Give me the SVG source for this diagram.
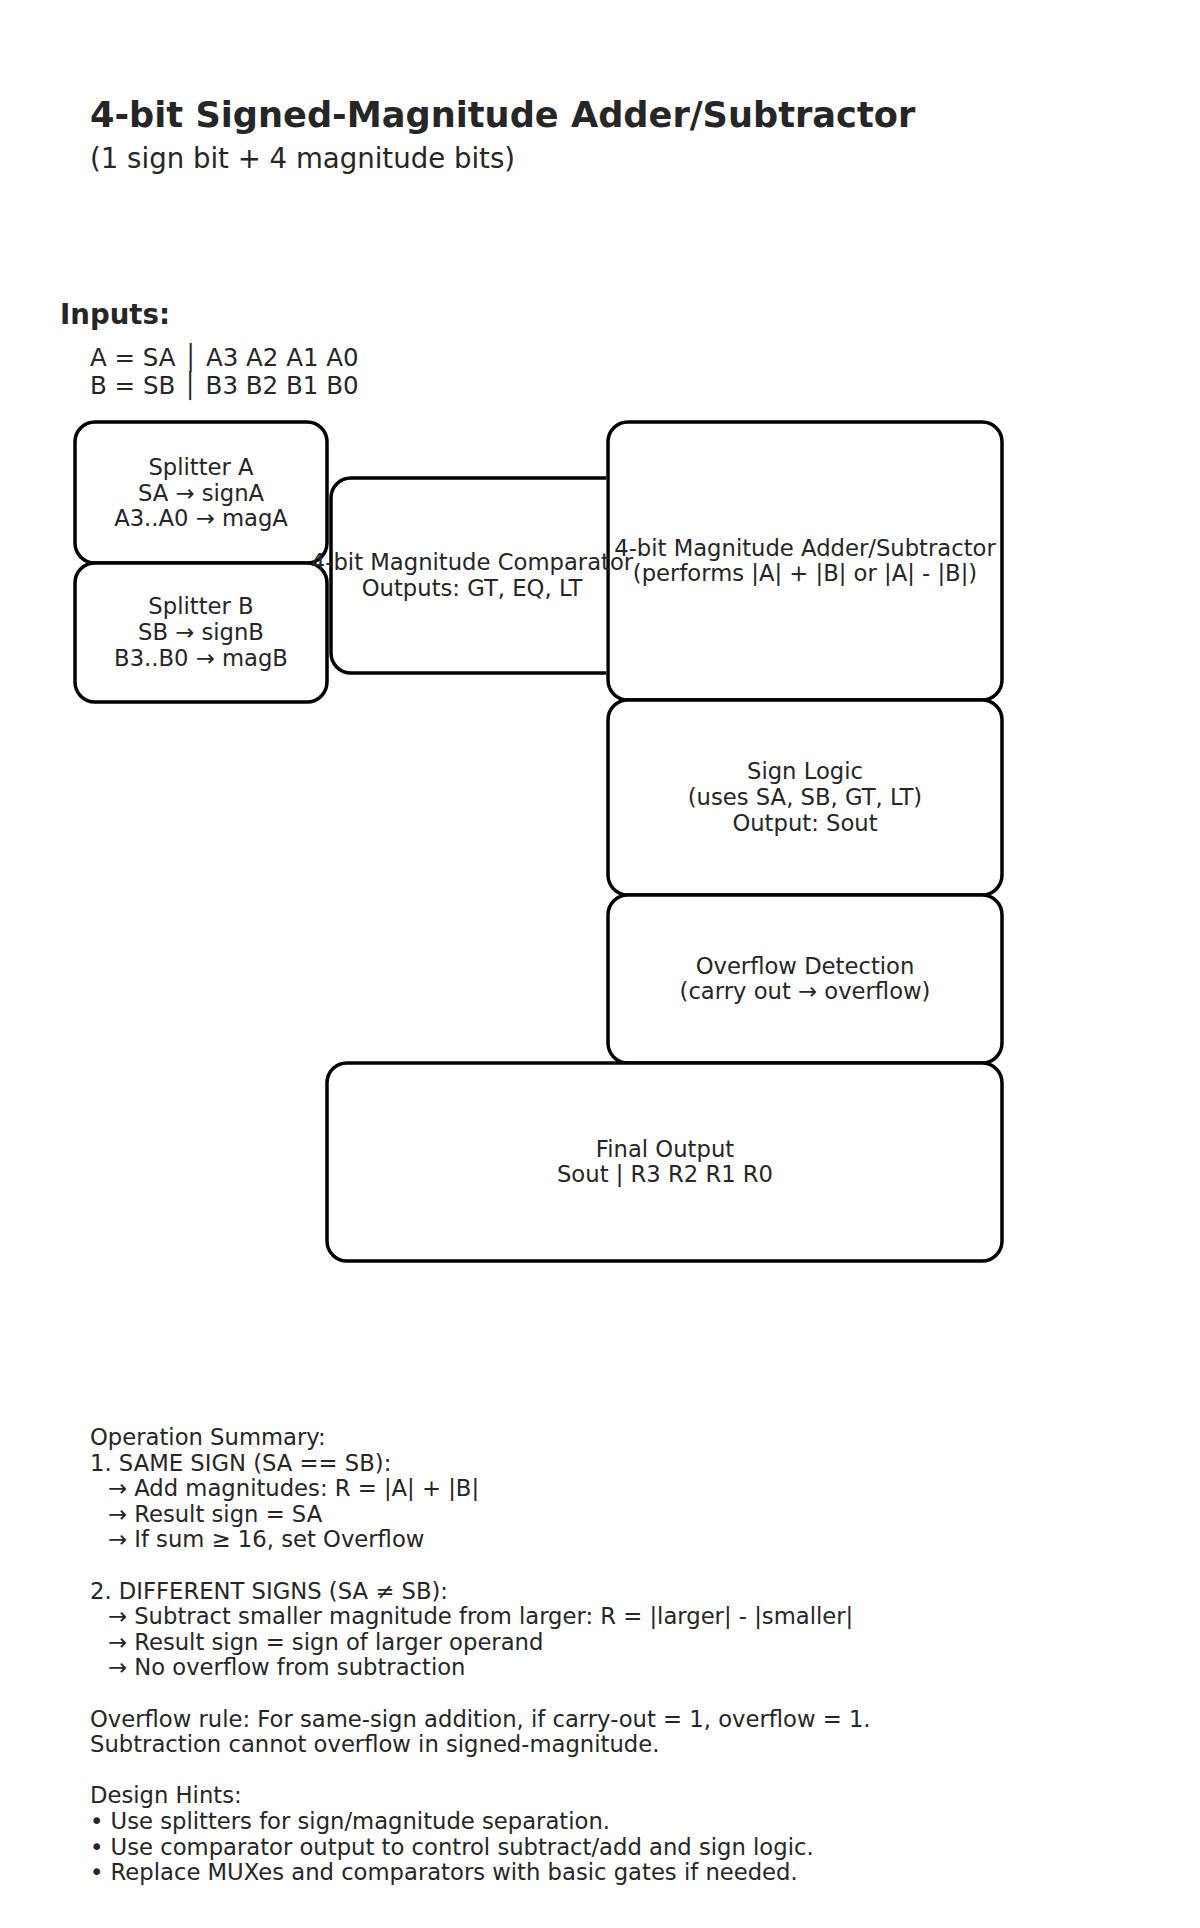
<svg xmlns="http://www.w3.org/2000/svg" width="1200" height="1928" viewBox="0 0 1200 1928">
<style>
  text { font-family: "DejaVu Sans", "Liberation Sans", sans-serif; fill: #262626; }
  .title { font-size: 35.2px; font-weight: bold; }
  .sub { font-size: 27.6px; }
  .h { font-size: 27.6px; font-weight: bold; }
  .inp { font-size: 24.5px; }
  .lbl { font-size: 22.7px; text-anchor: middle; }
  .note { font-size: 22.7px; }
  .box { fill: #fff; stroke: #000; stroke-width: 3.5; }
</style>
<rect width="1200" height="1928" fill="#fff"/>
<g id="header">
  <text class="title" x="90" y="127">4-bit Signed-Magnitude Adder/Subtractor</text>
  <text class="sub" x="90" y="168">(1 sign bit + 4 magnitude bits)</text>
  <text class="h" x="60" y="324">Inputs:</text>
  <text class="inp" x="90" y="366">A = SA │ A3 A2 A1 A0</text>
  <text class="inp" x="90" y="394">B = SB │ B3 B2 B1 B0</text>
</g>
<g id="connectors"></g>
<g id="node-splitterA">
  <rect class="box" x="75" y="422" width="252" height="141" rx="20"/>
  <text class="lbl" x="201" y="474.9">Splitter A</text>
  <text class="lbl" x="201" y="500.5">SA → signA</text>
  <text class="lbl" x="201" y="526.1">A3..A0 → magA</text>
</g>
<g id="node-splitterB">
  <rect class="box" x="75" y="563" width="252" height="139" rx="20"/>
  <text class="lbl" x="201" y="614.4">Splitter B</text>
  <text class="lbl" x="201" y="640">SB → signB</text>
  <text class="lbl" x="201" y="665.6">B3..B0 → magB</text>
</g>
<g id="node-adder">
  <rect class="box" x="608" y="422" width="394" height="278" rx="20"/>
  <text class="lbl" x="805" y="555.7">4-bit Magnitude Adder/Subtractor</text>
  <text class="lbl" x="805" y="581.3">(performs |A| + |B| or |A| - |B|)</text>
</g>
<g id="node-signlogic">
  <rect class="box" x="608" y="700" width="394" height="195" rx="20"/>
  <text class="lbl" x="805" y="779.4">Sign Logic</text>
  <text class="lbl" x="805" y="805">(uses SA, SB, GT, LT)</text>
  <text class="lbl" x="805" y="830.6">Output: Sout</text>
</g>
<g id="node-overflow">
  <rect class="box" x="608" y="895" width="394" height="168" rx="20"/>
  <text class="lbl" x="805" y="973.7">Overflow Detection</text>
  <text class="lbl" x="805" y="999.3">(carry out → overflow)</text>
</g>
<g id="node-final">
  <rect class="box" x="327" y="1063" width="675" height="198" rx="20"/>
  <text class="lbl" x="665" y="1156.7">Final Output</text>
  <text class="lbl" x="665" y="1182.3">Sout | R3 R2 R1 R0</text>
</g>
<g id="node-comparator">
  <path class="box" d="M606.2 478 H351 A20 20 0 0 0 331 498 V653 A20 20 0 0 0 351 673 H606.2"/>
  <text class="lbl" x="472" y="570.2">4-bit Magnitude Comparator</text>
  <text class="lbl" x="472" y="595.8">Outputs: GT, EQ, LT</text>
</g>
<g id="notes">
  <text class="note" x="90" y="1445">Operation Summary:</text>
  <text class="note" x="90" y="1470.6">1. SAME SIGN (SA == SB):</text>
  <text class="note" x="108" y="1496.2">→ Add magnitudes: R = |A| + |B|</text>
  <text class="note" x="108" y="1521.8">→ Result sign = SA</text>
  <text class="note" x="108" y="1547.4">→ If sum ≥ 16, set Overflow</text>
  <text class="note" x="90" y="1598.6">2. DIFFERENT SIGNS (SA ≠ SB):</text>
  <text class="note" x="108" y="1624.2">→ Subtract smaller magnitude from larger: R = |larger| - |smaller|</text>
  <text class="note" x="108" y="1649.8">→ Result sign = sign of larger operand</text>
  <text class="note" x="108" y="1675.4">→ No overflow from subtraction</text>
  <text class="note" x="90" y="1726.6">Overflow rule: For same-sign addition, if carry-out = 1, overflow = 1.</text>
  <text class="note" x="90" y="1752.2">Subtraction cannot overflow in signed-magnitude.</text>
  <text class="note" x="90" y="1803.4">Design Hints:</text>
  <text class="note" x="90" y="1829">• Use splitters for sign/magnitude separation.</text>
  <text class="note" x="90" y="1854.6">• Use comparator output to control subtract/add and sign logic.</text>
  <text class="note" x="90" y="1880.2">• Replace MUXes and comparators with basic gates if needed.</text>
</g>
</svg>
